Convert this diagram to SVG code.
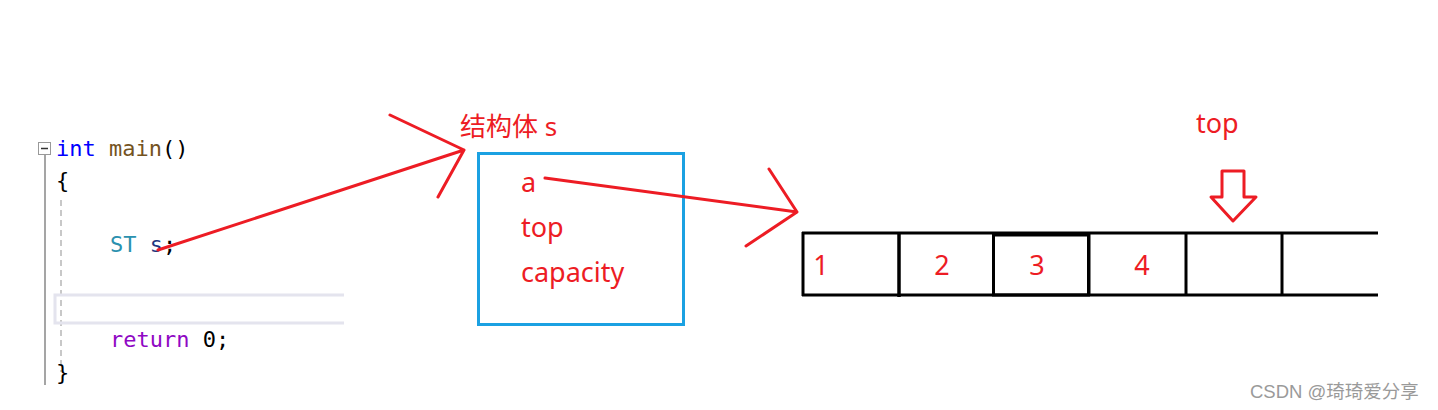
<svg xmlns="http://www.w3.org/2000/svg" width="1438" height="410" viewBox="0 0 1438 410">
<style>
.code{font-family:"DejaVu Sans Mono","Liberation Mono",monospace;font-size:22px}
.red{fill:#ed1c24;font-family:"Noto Sans","Noto Sans CJK SC",sans-serif;font-size:27px}
.rl{stroke:#ed1c24;stroke-width:3;fill:none;stroke-linecap:round;stroke-linejoin:round}
.cell{fill:none;stroke:#000;stroke-width:3}
</style>
<rect width="1438" height="410" fill="#fff"/>
<g id="code">
<rect x="38.5" y="142.5" width="12" height="12" fill="#fff" stroke="#999" stroke-width="1"/>
<line x1="41" y1="148.5" x2="48" y2="148.5" stroke="#333" stroke-width="1.5"/>
<line x1="45" y1="155" x2="45" y2="385" stroke="#a5a5a5" stroke-width="2"/>
<line x1="61" y1="200" x2="61" y2="372" stroke="#c8c8c8" stroke-width="2" stroke-dasharray="6,4"/>
<path d="M344 295 H55 V323 H344" fill="none" stroke="#e4e4ee" stroke-width="3"/>
<text class="code" x="56" y="156"><tspan fill="#0000ff">int</tspan> <tspan fill="#74531f">main</tspan><tspan fill="#000">()</tspan></text>
<text class="code" x="56" y="188" fill="#000">{</text>
<text class="code" x="110" y="252"><tspan fill="#2b91af">ST</tspan> <tspan fill="#1f377f">s</tspan><tspan fill="#000">;</tspan></text>
<text class="code" x="110" y="347"><tspan fill="#8f08c4">return</tspan> <tspan fill="#000">0;</tspan></text>
<text class="code" x="56" y="380" fill="#000">}</text>
</g>
<g id="struct">
<text class="red" x="460" y="136" style="font-size:26px">结构体 s</text>
<rect x="478.5" y="153.5" width="205" height="171" fill="none" stroke="#1ba1e2" stroke-width="3"/>
<text class="red" x="521" y="192">a</text>
<text class="red" x="521" y="237">top</text>
<text class="red" x="521" y="282">capacity</text>
</g>
<g id="array">
<line x1="802" y1="233" x2="1378" y2="233" stroke="#000" stroke-width="3"/>
<line x1="802" y1="295" x2="1378" y2="295" stroke="#000" stroke-width="3"/>
<line x1="803" y1="232" x2="803" y2="296" stroke="#000" stroke-width="3"/>
<line x1="899" y1="233" x2="899" y2="297" stroke="#000" stroke-width="3.5"/>
<rect class="cell" x="993.5" y="235" width="95" height="60"/>
<line x1="1089" y1="233" x2="1089" y2="296" stroke="#000" stroke-width="3"/>
<line x1="1186" y1="233" x2="1186" y2="296" stroke="#000" stroke-width="3"/>
<line x1="1282" y1="233" x2="1282" y2="296" stroke="#000" stroke-width="3"/>
<text class="red" x="821" y="275" text-anchor="middle">1</text>
<text class="red" x="942" y="275" text-anchor="middle">2</text>
<text class="red" x="1037" y="275" text-anchor="middle">3</text>
<text class="red" x="1142" y="275" text-anchor="middle">4</text>
</g>
<g id="top-pointer">
<text class="red" x="1196" y="133">top</text>
<path class="rl" d="M1222 171 H1244 V197 H1256 L1233 221 L1211 197 H1222 Z"/>
</g>
<g id="connectors">
<path class="rl" d="M158 250 L464 150 M390 115 L464 150 L438 197"/>
<path class="rl" d="M545 178 L797 212 M769 169 L797 212 L746 246"/>
</g>
<text x="1250" y="398" fill="#9a9a9a" font-family="Liberation Sans,'Noto Sans CJK SC',sans-serif" font-size="18.5">CSDN @琦琦爱分享</text>
</svg>
